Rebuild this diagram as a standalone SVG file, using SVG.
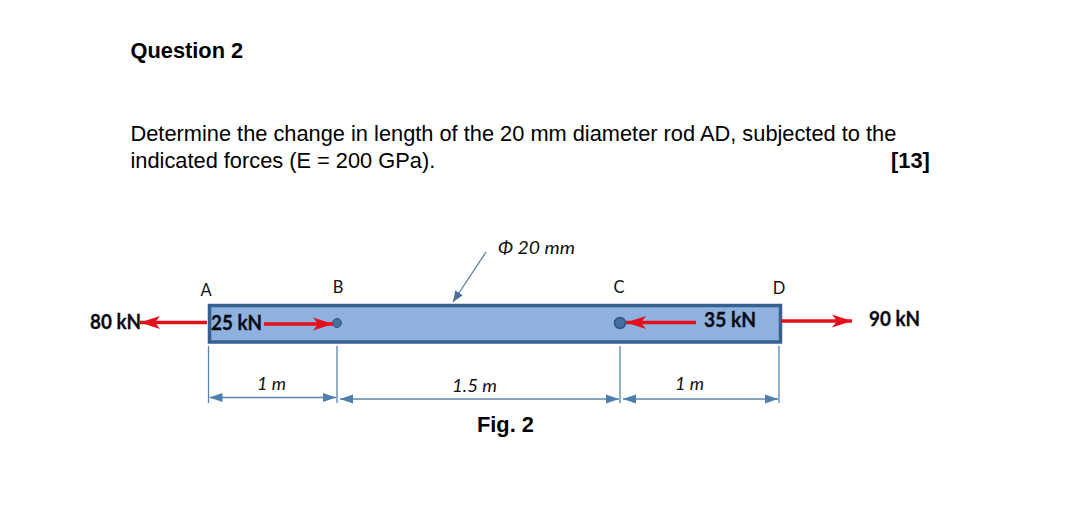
<svg xmlns="http://www.w3.org/2000/svg" width="1080" height="513" viewBox="0 0 1080 513">
<style>
.h{font-family:"Liberation Sans",Arial,sans-serif;fill:#000}
.t{font-size:21.8px}
.b{font-weight:700}
.c{font-family:Lato,"Open Sans",sans-serif;fill:#111}
.f{font-size:20px;font-weight:700;fill:#0b0b14;stroke:#0b0b14;stroke-width:.3}
.l{font-size:16.500px}
.i{font-size:18px;font-style:italic}
.dim{stroke:#5b84ad;stroke-width:1.3;fill:none}
.da{stroke:#5b84ad;stroke-width:1.3;fill:none;marker-start:url(#db);marker-end:url(#de)}
.red{stroke:#e3101c;stroke-width:3.500;fill:none;marker-end:url(#r)}
</style>
<defs>
<marker id="r" markerUnits="userSpaceOnUse" markerWidth="22" markerHeight="14" refX="20" refY="7" orient="auto"><path d="M0 .5L20 7L0 13.500L5 7Z" fill="#e3101c"/></marker>
<marker id="de" markerUnits="userSpaceOnUse" markerWidth="14" markerHeight="10" refX="13" refY="5" orient="auto"><path d="M0 .5L13 5L0 9.500Z" fill="#4f7fae"/></marker>
<marker id="db" markerUnits="userSpaceOnUse" markerWidth="14" markerHeight="10" refX="0" refY="5" orient="auto"><path d="M13 .5L0 5L13 9.500Z" fill="#4f7fae"/></marker>
<marker id="p" markerUnits="userSpaceOnUse" markerWidth="12" markerHeight="10" refX="11" refY="5" orient="auto"><path d="M0 .5L11 5L0 9.500Z" fill="#4f7099"/></marker>
</defs>
<g id="heading">
<text class="h b t" x="130.500" y="58">Question 2</text>
<text class="h t" x="130.500" y="141">Determine the change in length of the 20 mm diameter rod AD, subjected to the</text>
<text class="h t" x="130.500" y="168">indicated forces (E = 200 GPa).</text>
<text class="h b t" x="891" y="168">[13]</text>
</g>
<g id="rod">
<rect x="209.500" y="305.500" width="571" height="36.500" fill="#8eb1e0" stroke="#35608f" stroke-width="3.500"/>
</g>
<g id="pinB"><circle cx="337" cy="323" r="4.500" fill="#466f9f" stroke="#2f5685"/></g>
<g id="pinC"><circle cx="620" cy="323" r="5.500" fill="#466f9f" stroke="#2f5685" stroke-width="1.500"/></g>
<g id="connectors">
<path class="red" d="M207 322.500H140"/>
<path class="red" d="M264 324H333"/>
<path class="red" d="M696 322.500H626"/>
<path class="red" d="M781 321H852"/>
<path d="M486 252L453 302" stroke="#5b7ea6" stroke-width="1.300" fill="none" marker-end="url(#p)"/>
<path class="dim" d="M208.500 346V403M337 346V403M620 346V403M779 346V403"/>
<path class="da" d="M209.500 397.500H336"/>
<path class="da" d="M340 399H619"/>
<path class="da" d="M623 399H778"/>
</g>
<g id="labels">
<text class="c l" x="206" y="296" text-anchor="middle">A</text>
<text class="c l" x="338" y="293" text-anchor="middle">B</text>
<text class="c l" x="619" y="293" text-anchor="middle">C</text>
<text class="c l" x="779" y="294" text-anchor="middle">D</text>
<text class="c f" x="90" y="329" textLength="51" lengthAdjust="spacingAndGlyphs">80 kN</text>
<text class="c f" x="211" y="330" textLength="51" lengthAdjust="spacingAndGlyphs">25 kN</text>
<text class="c f" x="704" y="326.500" textLength="52" lengthAdjust="spacingAndGlyphs">35 kN</text>
<text class="c f" x="869" y="326" textLength="51" lengthAdjust="spacingAndGlyphs">90 kN</text>
<text class="c i" x="498" y="254" textLength="77" lengthAdjust="spacingAndGlyphs">Φ 20 mm</text>
<text class="c i" x="257" y="390" textLength="29" lengthAdjust="spacingAndGlyphs">1 m</text>
<text class="c i" x="452" y="392" textLength="45" lengthAdjust="spacingAndGlyphs">1.5 m</text>
<text class="c i" x="675" y="390" textLength="29" lengthAdjust="spacingAndGlyphs">1 m</text>
<text class="h b t" x="477" y="432">Fig. 2</text>
</g>
</svg>
